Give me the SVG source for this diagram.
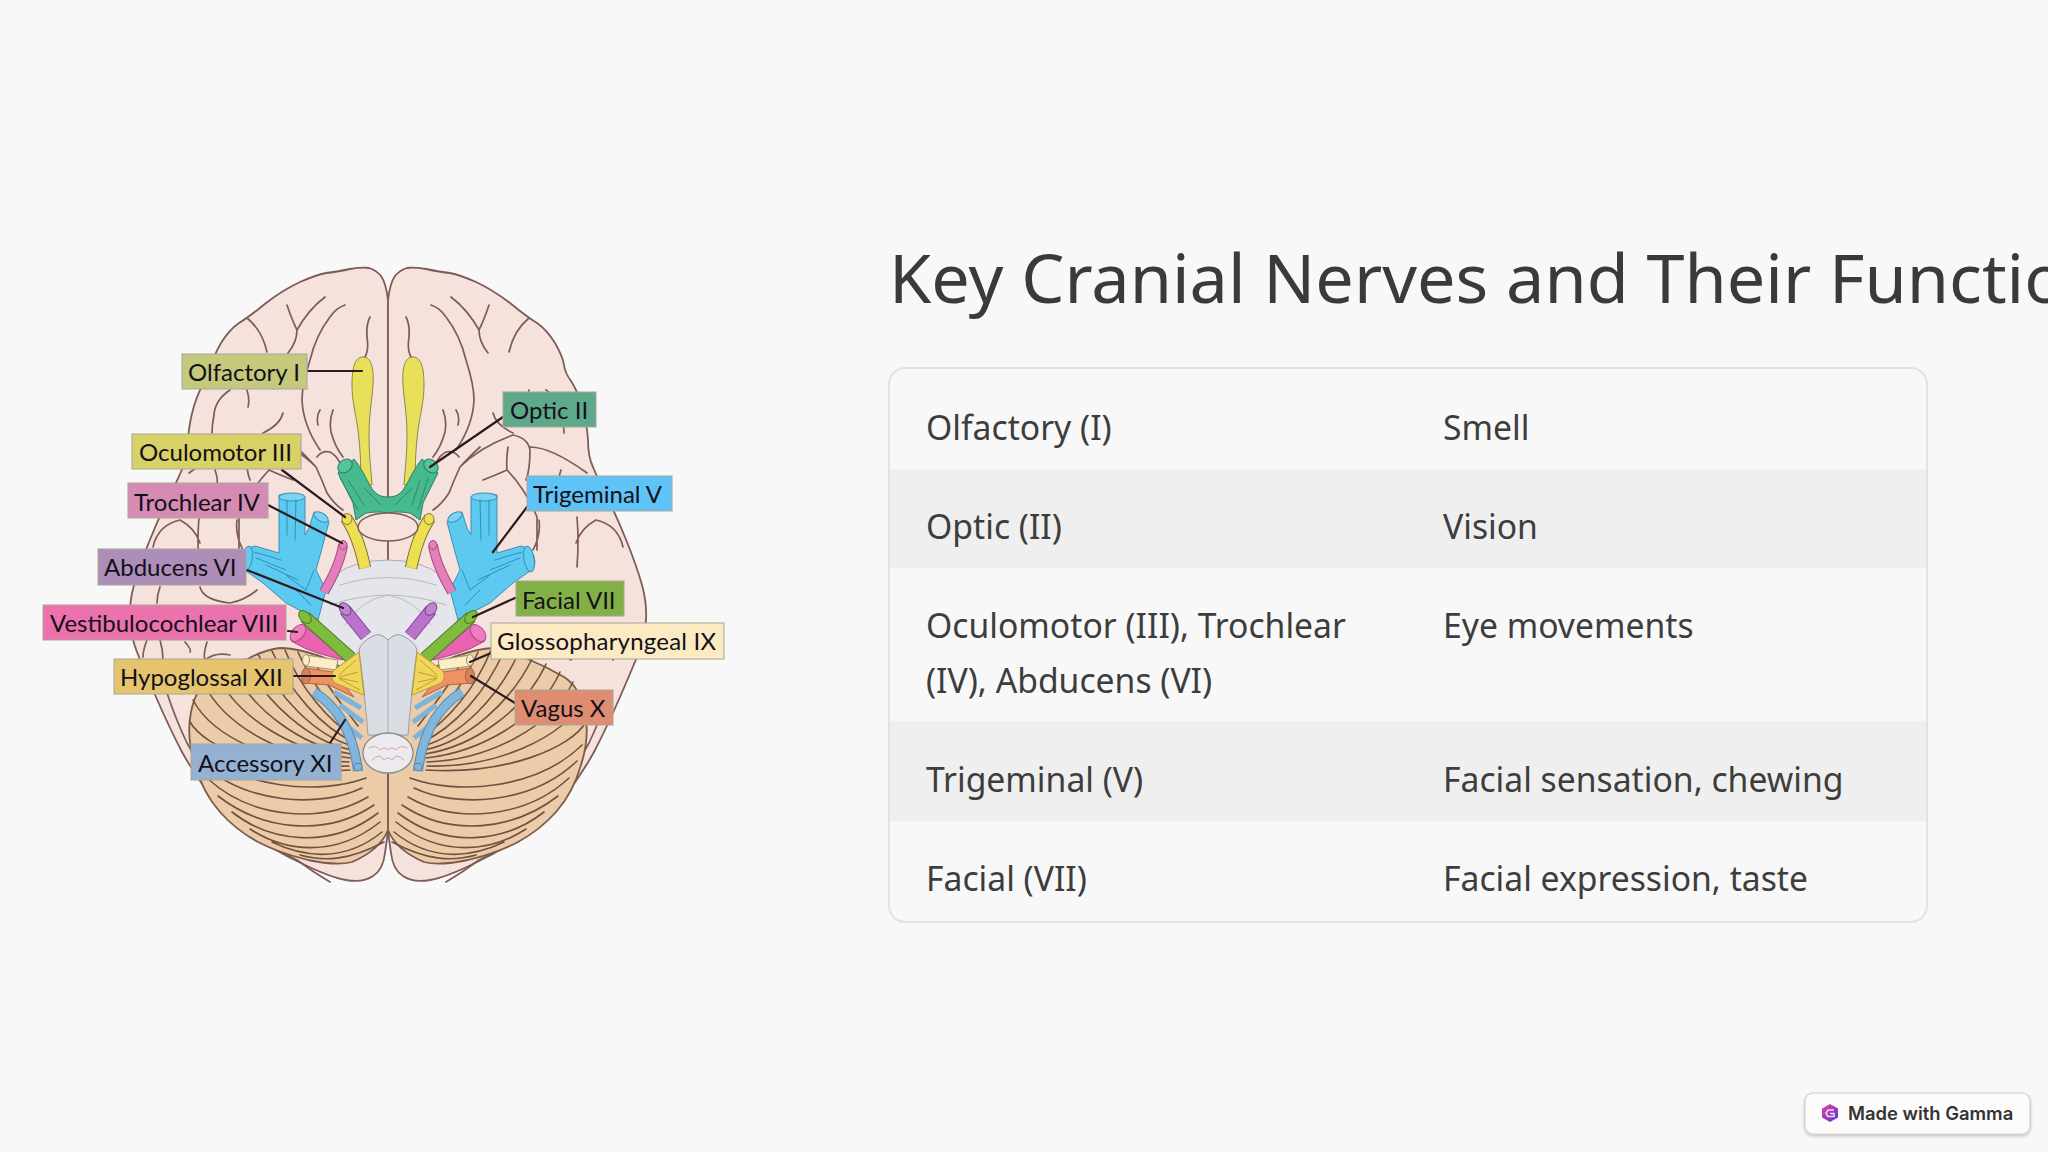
<svg xmlns="http://www.w3.org/2000/svg" width="2048" height="1152" viewBox="0 0 2048 1152">
<style>
.gy{fill:none;stroke:#7d5b56;stroke-width:1.7;stroke-linecap:round;stroke-linejoin:round}
.fo{fill:none;stroke:#6f5140;stroke-width:1.6;stroke-linecap:round}
.lb rect{stroke:#a9a89a;stroke-width:1.5;stroke-opacity:.7}
.lb text{font-family:"Lato","Liberation Sans",sans-serif;font-size:24px;fill:#14101a}
.cn path{fill:none;stroke:#2a1c1c;stroke-width:2.2;stroke-linecap:round}
.ol{fill:none;stroke-linecap:butt}
.st{fill:none;stroke-width:1;stroke-linecap:round}
.t{font-family:"Noto Sans","Open Sans",sans-serif;font-size:33.7px;fill:#3d3d3d}
</style>
<defs>
<linearGradient id="gm" x1="0" y1="0" x2="1" y2="1"><stop offset="0" stop-color="#e0459f"/><stop offset="1" stop-color="#5a35d8"/></linearGradient>
<filter id="sh" x="-5%" y="-20%" width="110%" height="150%"><feDropShadow dx="0" dy="1.5" stdDeviation="1.5" flood-color="#000" flood-opacity=".25"/></filter>
<g id="hemi">
<path d="M388 300Q386 283 381 276Q376 270 369 268Q363 267 350 269Q336 272 326 273Q316 275 300 282Q283 290 266 303Q249 317 239 323Q229 330 221 343Q213 357 212 365Q211 373 205 381Q199 390 194 406Q189 423 188 440Q188 457 183 467Q179 477 169 497Q159 517 149 542Q139 567 134 585Q129 603 130 620Q131 637 137 652Q143 667 156 697Q169 727 182 752Q196 777 212 797Q229 817 251 833Q273 850 301 863Q329 877 346 880Q363 883 373 876Q383 870 385 853Q388 837 388 820Z" fill="#f6e2dc" stroke="#7d5b56" stroke-width="1.8"/>
<path class="gy" d="M247 318Q262 330 267 352M287 305Q292 320 297 330Q297 342 288 353M297 330Q308 310 325 297M345 305Q336 308 330 317Q316 335 310 360Q302 385 302 400Q303 425 320 450M370 317Q366 325 367 337Q369 350 365 357M320 410Q316 416 318 425M333 410Q329 420 331 432Q335 447 343 457M230 390Q215 400 214 415Q212 425 212 433M247 390Q250 400 248 407M283 413Q280 425 263 433M296 447Q305 455 316 467Q322 480 327 493Q335 505 343 510M317 457Q322 450 330 452Q336 455 340 463M316 467Q296 447 263 435Q248 438 246 450Q246 470 250 480M246 447Q225 447 189 473M268 447Q270 460 269 470Q280 475 293 480M269 470Q250 490 239 517Q239 535 239 550M215 470Q218 478 217 483M199 517Q197 540 199 567M153 547Q158 525 180 520Q195 528 200 543M237 520Q235 535 243 550M160 587Q157 595 157 603M200 587Q203 600 230 603Q245 600 257 590M147 640Q143 650 143 657M160 640Q163 650 163 660M185 642Q192 650 190 652M207 642Q203 655 205 660Q215 652 230 655M167 693Q176 720 187 743Q200 767 217 787Q235 812 257 833Q275 850 297 860Q313 872 330 882"/>
<path d="M388 830Q380 850 352 862Q336 866 308 860Q279 853 258 842Q236 830 220 812Q203 793 195 765Q186 737 191 712Q196 687 212 677Q229 667 246 660Q263 650 280 648Q300 648 330 660L388 700Z" fill="#eccba8" stroke="#7a5b4c" stroke-width="1.8"/>
<path class="fo" d="M190 722C205 748 270 775 350 770M193 700C213 738 280 768 349 766M203 682C225 728 288 760 349 762M216 672C236 718 295 752 350 758M230 664C250 708 300 746 351 754M244 659C265 702 310 742 352 750M258 654C278 698 316 736 353 746M272 651C290 692 322 728 354 742M285 650C300 688 328 720 355 738M298 652C312 684 334 712 356 734M312 656C322 680 340 702 358 726M194 745C240 790 320 795 366 778M199 761C245 805 320 808 362 788M207 778C250 818 320 825 368 797M218 796C262 830 325 838 374 805M232 812C270 842 330 850 378 813M250 829C285 852 335 858 380 822M272 842C305 858 345 862 382 832M300 855C325 862 350 860 384 842"/>
</g>
<g id="nerves">
<path d="M471 497Q484 491 497 495L497 553L521 546Q534 548 535 562Q534 572 530 571L513 583L490 603L458 620L450 590L460 570L455 552L447 522Q450 515 462 512L467 528L471 535Z" fill="#5cc9f1" stroke="#3f8fb5" stroke-width="1"/>
<ellipse cx="484" cy="497" rx="13" ry="4" fill="#7ad5f4" stroke="#3f8fb5"/>
<ellipse cx="455" cy="517" rx="8" ry="4" transform="rotate(-30 455 517)" fill="#7ad5f4" stroke="#3f8fb5"/>
<ellipse cx="529" cy="559" rx="5" ry="13" transform="rotate(-10 529 559)" fill="#62cdf3" stroke="#3f8fb5"/>
<path class="st" stroke="#2f8fb8" d="M480 500L481 540M489 500L489 535M495 560L522 552M490 570L520 558M478 580L510 565M470 590L490 575M465 605L480 590M462 570L470 590"/>
<path class="ol" stroke="#7c7034" stroke-width="12.5" d="M430 518Q418 535 411 568"/><path class="ol" stroke="#ecdf52" stroke-width="10.5" d="M430 518Q418 535 411 568"/>
<ellipse cx="429" cy="519" rx="5" ry="5.5" fill="#ecdf52" stroke="#8a7c34"/>
<path class="ol" stroke="#a44f85" stroke-width="10" d="M433 545Q436 565 452 592"/><path class="ol" stroke="#e57eb9" stroke-width="8" d="M433 545Q436 565 452 592"/>
<ellipse cx="433" cy="545" rx="4" ry="4.5" fill="#e57eb9" stroke="#a44f85"/>
<path class="ol" stroke="#7a4a8c" stroke-width="13" d="M431 610L410 636"/><path class="ol" stroke="#bb72cc" stroke-width="11" d="M431 610L410 636"/>
<ellipse cx="431" cy="609" rx="5" ry="7" transform="rotate(38 431 609)" fill="#c184d2" stroke="#7a4a8c"/>
<path d="M433 658Q455 640 472 625L485 641Q470 650 455 654L433 660Z" fill="#ea62b2" stroke="#a84a84"/>
<ellipse cx="478" cy="633" rx="6" ry="10" transform="rotate(-40 478 633)" fill="#ef7dc0" stroke="#a84a84"/>
<path class="ol" stroke="#517a28" stroke-width="13" d="M471 617L425 658"/><path class="ol" stroke="#80bc3c" stroke-width="11" d="M471 617L425 658"/>
<ellipse cx="471" cy="617" rx="5" ry="7.5" transform="rotate(45 471 617)" fill="#80bc3c" stroke="#517a28"/>
<path d="M438 660L470 655L471 666L440 670Z" fill="#fbeec6" stroke="#9f8f66"/>
<ellipse cx="470" cy="660" rx="3.5" ry="5.5" fill="#fbeec6" stroke="#9f8f66"/>
<path d="M443 672L470 668Q476 676 473 683L447 685L422 697Z" fill="#ef9162" stroke="#a8674a"/>
<ellipse cx="470" cy="676" rx="4.5" ry="8" fill="#d9805a" stroke="#a8674a"/>
<path d="M417 652L442 670Q447 677 441 683L412 695Z" fill="#f2d65c" stroke="#b29c3c"/>
<path class="st" stroke="#bb9d35" d="M437 675L420 660M437 677L418 672M437 678L418 682M436 679L416 690"/>
<path class="ol" stroke="#7db4dc" stroke-width="5" d="M415 708L442 692M413 722L436 705M414 738L428 727"/>
<path class="ol" stroke="#5b87a8" stroke-width="10" d="M462 692Q425 715 418 771"/><path class="ol" stroke="#7fb6de" stroke-width="8" d="M462 692Q425 715 418 771"/>
<ellipse cx="418" cy="767" rx="4" ry="4" fill="#7fb6de" stroke="#5b87a8"/>
<path d="M363 357C372 357 374 370 373 385C372 400 369 415 369 435C369 455 371 470 372 485L360 485C361 470 361 455 358 430C355 410 352 400 352 385C352 370 354 357 363 357Z" fill="#e8e05a" stroke="#8b8a42" stroke-width="1" transform="matrix(-1 0 0 1 776 0)"/>
</g>
</defs>
<rect width="2048" height="1152" fill="#f8f8f8"/>
<g id="brain">
<use href="#hemi"/>
<use href="#hemi" transform="matrix(-1 0 0 1 776 0)"/>
<path d="M388 560Q355 560 335 575Q325 585 320 600L318 620L349 655L427 655L458 620L456 600Q450 585 441 575Q420 560 388 560Z" fill="#e4e6ec" stroke="#a9abb3" stroke-width="1"/>
<path class="st" stroke="#b7bac2" d="M340 585Q388 570 436 585M330 605Q388 585 446 605M345 625Q360 600 388 595Q416 600 431 625"/>
<path d="M388 640Q396 632 403 636Q415 642 417 650L412 690L408 735L368 735L364 690L359 650Q361 642 373 636Q380 632 388 640Z" fill="#d9dde4" stroke="#9a9ca6" stroke-width="1"/>
<path class="st" stroke="#a9abb3" d="M388 640L388 735"/>
<ellipse cx="388" cy="753" rx="25" ry="20" fill="#ebebef" stroke="#8f8a88" stroke-width="1.3"/>
<path class="st" stroke="#dba2a2" d="M369 748Q376 744 380 750Q385 746 388 750Q392 746 396 750Q400 744 407 748M372 760Q380 752 384 760Q388 756 392 760Q396 752 404 760"/>
<use href="#nerves"/>
<use href="#nerves" transform="matrix(-1 0 0 1 776 0)"/>
<path d="M388 497C407 497 405 480 422 459L438 473L423 503L420 520L410 513Q396 511 388 513Q380 511 366 513L356 520L353 503L338 473L354 459C371 480 369 497 388 497Z" fill="#46b98f" stroke="#2f7d62" stroke-width="1"/>
<ellipse cx="431" cy="466" rx="8" ry="6" transform="rotate(40 431 466)" fill="#55c39c" stroke="#2f7d62"/>
<ellipse cx="345" cy="466" rx="8" ry="6" transform="rotate(-40 345 466)" fill="#55c39c" stroke="#2f7d62"/>
<path class="st" stroke="#2f8b6b" d="M420 480L412 505M428 478L418 510M412 488L395 505M340 478L358 510M348 480L364 505M364 488L381 505"/>
<ellipse cx="388" cy="527" rx="30" ry="14" fill="#f6e2dc" stroke="#7d5b56" stroke-width="1.5"/>
</g>
<g id="connectors" class="cn">
<path d="M308 371L362 371"/><path d="M282 470L345 517"/><path d="M268 505L342 543"/><path d="M247 570L343 608"/><path d="M288 631L297 632"/><path d="M293 676L335 676"/><path d="M330 743L345 720"/><path d="M503 417L430 467"/><path d="M527 507L493 552"/><path d="M515 598L473 617"/><path d="M491 653L470 662"/><path d="M515 703L471 676"/>
</g>
<g id="label-olfactory" class="lb"><rect x="182" y="354" width="125" height="35" fill="#c5c97c"/><text x="188" y="381">Olfactory I</text></g>
<g id="label-optic" class="lb"><rect x="503" y="392" width="93" height="35" fill="#5fa98b"/><text x="510" y="419">Optic II</text></g>
<g id="label-oculomotor" class="lb"><rect x="132" y="434" width="169" height="35" fill="#d7d166"/><text x="139" y="461">Oculomotor III</text></g>
<g id="label-trochlear" class="lb"><rect x="128" y="483" width="140" height="35" fill="#d58bb3"/><text x="134" y="511">Trochlear IV</text></g>
<g id="label-trigeminal" class="lb"><rect x="527" y="476" width="145" height="35" fill="#5ec3f6"/><text x="533" y="503">Trigeminal V</text></g>
<g id="label-abducens" class="lb"><rect x="98" y="549" width="148" height="36" fill="#ad8eb9"/><text x="104" y="576">Abducens VI</text></g>
<g id="label-facial" class="lb"><rect x="516" y="581" width="108" height="35" fill="#82b045"/><text x="522" y="609">Facial VII</text></g>
<g id="label-vestibulocochlear" class="lb"><rect x="43" y="605" width="243" height="35" fill="#ec72ae"/><text x="50" y="632">Vestibulocochlear VIII</text></g>
<g id="label-glossopharyngeal" class="lb"><rect x="491" y="623" width="233" height="36" fill="#fbeac2"/><text x="497" y="650" textLength="219">Glossopharyngeal IX</text></g>
<g id="label-hypoglossal" class="lb"><rect x="114" y="659" width="179" height="35" fill="#e5c46d"/><text x="120" y="686">Hypoglossal XII</text></g>
<g id="label-vagus" class="lb"><rect x="515" y="690" width="98" height="35" fill="#de8d70"/><text x="521" y="717">Vagus X</text></g>
<g id="label-accessory" class="lb"><rect x="191" y="744" width="150" height="36" fill="#94b1d1"/><text x="198" y="772">Accessory XI</text></g>
<text id="title" x="889" y="303" font-family="'Noto Sans','Open Sans',sans-serif" font-size="68.4" fill="#3a3a3a">Key Cranial Nerves and Their Functions</text>
<g id="table">
<rect x="889" y="368" width="1038" height="554" rx="16" fill="#f8f8f8" stroke="#e3e3e3" stroke-width="2"/>
<rect x="890" y="469" width="1036" height="99" fill="#efefef"/>
<rect x="890" y="721" width="1036" height="100" fill="#efefef"/>
<text class="t" x="926" y="440">Olfactory (I)</text><text class="t" x="1443" y="440">Smell</text>
<text class="t" x="926" y="539">Optic (II)</text><text class="t" x="1443" y="539">Vision</text>
<text class="t" x="926" y="638">Oculomotor (III), Trochlear</text><text class="t" x="926" y="693">(IV), Abducens (VI)</text><text class="t" x="1443" y="638">Eye movements</text>
<text class="t" x="926" y="792">Trigeminal (V)</text><text class="t" x="1443" y="792">Facial sensation, chewing</text>
<text class="t" x="926" y="891">Facial (VII)</text><text class="t" x="1443" y="891">Facial expression, taste</text>
</g>
<g id="badge">
<rect x="1805" y="1093" width="225" height="41" rx="8" fill="#fdfcfb" stroke="#cfcfcf" stroke-width="1.2" filter="url(#sh)"/>
<path d="M1830 1104L1838 1108.500L1838 1117.500L1830 1122L1822 1117.500L1822 1108.500Z" fill="url(#gm)"/>
<path d="M1834 1110L1828 1110L1826 1113L1828 1116.500L1834 1116.500L1834 1113.500L1830 1113.500" fill="none" stroke="#f3d8f0" stroke-width="1.6"/>
<text x="1848" y="1120" font-family="Inter,'Liberation Sans',sans-serif" font-size="18.4" font-weight="600" fill="#333">Made with Gamma</text>
</g>
</svg>
